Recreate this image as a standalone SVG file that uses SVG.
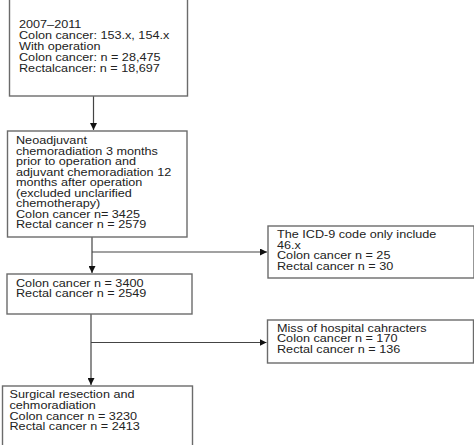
<svg xmlns="http://www.w3.org/2000/svg" width="474" height="445" viewBox="0 0 474 445">
<defs>
<style>
.box{fill:#fff;stroke:#6b6b6b;stroke-width:1.4}
.ln{fill:none;stroke:#444;stroke-width:1.2}
.t{font-family:"Liberation Sans",Arial,sans-serif;font-size:10.8px;fill:#222}
</style>
<marker id="ah" viewBox="0 0 10 10" refX="10" refY="5" markerWidth="7" markerHeight="7" orient="auto" markerUnits="userSpaceOnUse">
<path d="M0,0 L10,5 L0,10 z" fill="#111"/>
</marker>
</defs>
<rect width="474" height="445" fill="#fff"/>
<g id="connectors">
<path class="ln" d="M93.5,96 V130" marker-end="url(#ah)"/>
<path class="ln" d="M92,237 V273" marker-end="url(#ah)"/>
<path class="ln" d="M92,252 H267" marker-end="url(#ah)"/>
<path class="ln" d="M91,314 V385" marker-end="url(#ah)"/>
<path class="ln" d="M91,342.5 H266.5" marker-end="url(#ah)"/>
</g>
<g id="n1">
<rect class="box" x="9.5" y="-2" width="178" height="98"/>
<g transform="translate(19,0) scale(1.17,1)"><text class="t">
<tspan x="0" y="28.5">2007–2011</tspan>
<tspan x="0" y="39.5">Colon cancer: 153.x, 154.x</tspan>
<tspan x="0" y="50.5">With operation</tspan>
<tspan x="0" y="61.5">Colon cancer: n = 28,475</tspan>
<tspan x="0" y="72.5">Rectalcancer: n = 18,697</tspan>
</text></g>
</g>
<g id="n2">
<rect class="box" x="7.5" y="131" width="179.5" height="106"/>
<g transform="translate(16,0) scale(1.17,1)"><text class="t">
<tspan x="0" y="144.5">Neoadjuvant</tspan>
<tspan x="0" y="155">chemoradiation 3 months</tspan>
<tspan x="0" y="165.5">prior to operation and</tspan>
<tspan x="0" y="176">adjuvant chemoradiation 12</tspan>
<tspan x="0" y="186.5">months after operation</tspan>
<tspan x="0" y="197">(excluded unclarified</tspan>
<tspan x="0" y="207.5">chemotherapy)</tspan>
<tspan x="0" y="218">Colon cancer n= 3425</tspan>
<tspan x="0" y="228.5">Rectal cancer n = 2579</tspan>
</text></g>
</g>
<g id="n3">
<rect class="box" x="268" y="226" width="206" height="52"/>
<g transform="translate(277,0) scale(1.17,1)"><text class="t">
<tspan x="0" y="238.5">The ICD-9 code only include</tspan>
<tspan x="0" y="249">46.x</tspan>
<tspan x="0" y="259.5">Colon cancer n = 25</tspan>
<tspan x="0" y="270">Rectal cancer n = 30</tspan>
</text></g>
</g>
<g id="n4">
<rect class="box" x="7" y="274" width="185" height="40"/>
<g transform="translate(16,0) scale(1.17,1)"><text class="t">
<tspan x="0" y="287">Colon cancer n = 3400</tspan>
<tspan x="0" y="297.5">Rectal cancer n = 2549</tspan>
</text></g>
</g>
<g id="n5">
<rect class="box" x="267.5" y="320" width="206" height="43"/>
<g transform="translate(277,0) scale(1.17,1)"><text class="t">
<tspan x="0" y="331.8">Miss of hospital cahracters</tspan>
<tspan x="0" y="342.5">Colon cancer n = 170</tspan>
<tspan x="0" y="353.3">Rectal cancer n = 136</tspan>
</text></g>
</g>
<g id="n6">
<rect class="box" x="2.5" y="386" width="190" height="70"/>
<g transform="translate(9.5,0) scale(1.17,1)"><text class="t">
<tspan x="0" y="398.5">Surgical resection and</tspan>
<tspan x="0" y="409">cehmoradiation</tspan>
<tspan x="0" y="420">Colon cancer n = 3230</tspan>
<tspan x="0" y="430.5">Rectal cancer n = 2413</tspan>
</text></g>
</g>
</svg>
